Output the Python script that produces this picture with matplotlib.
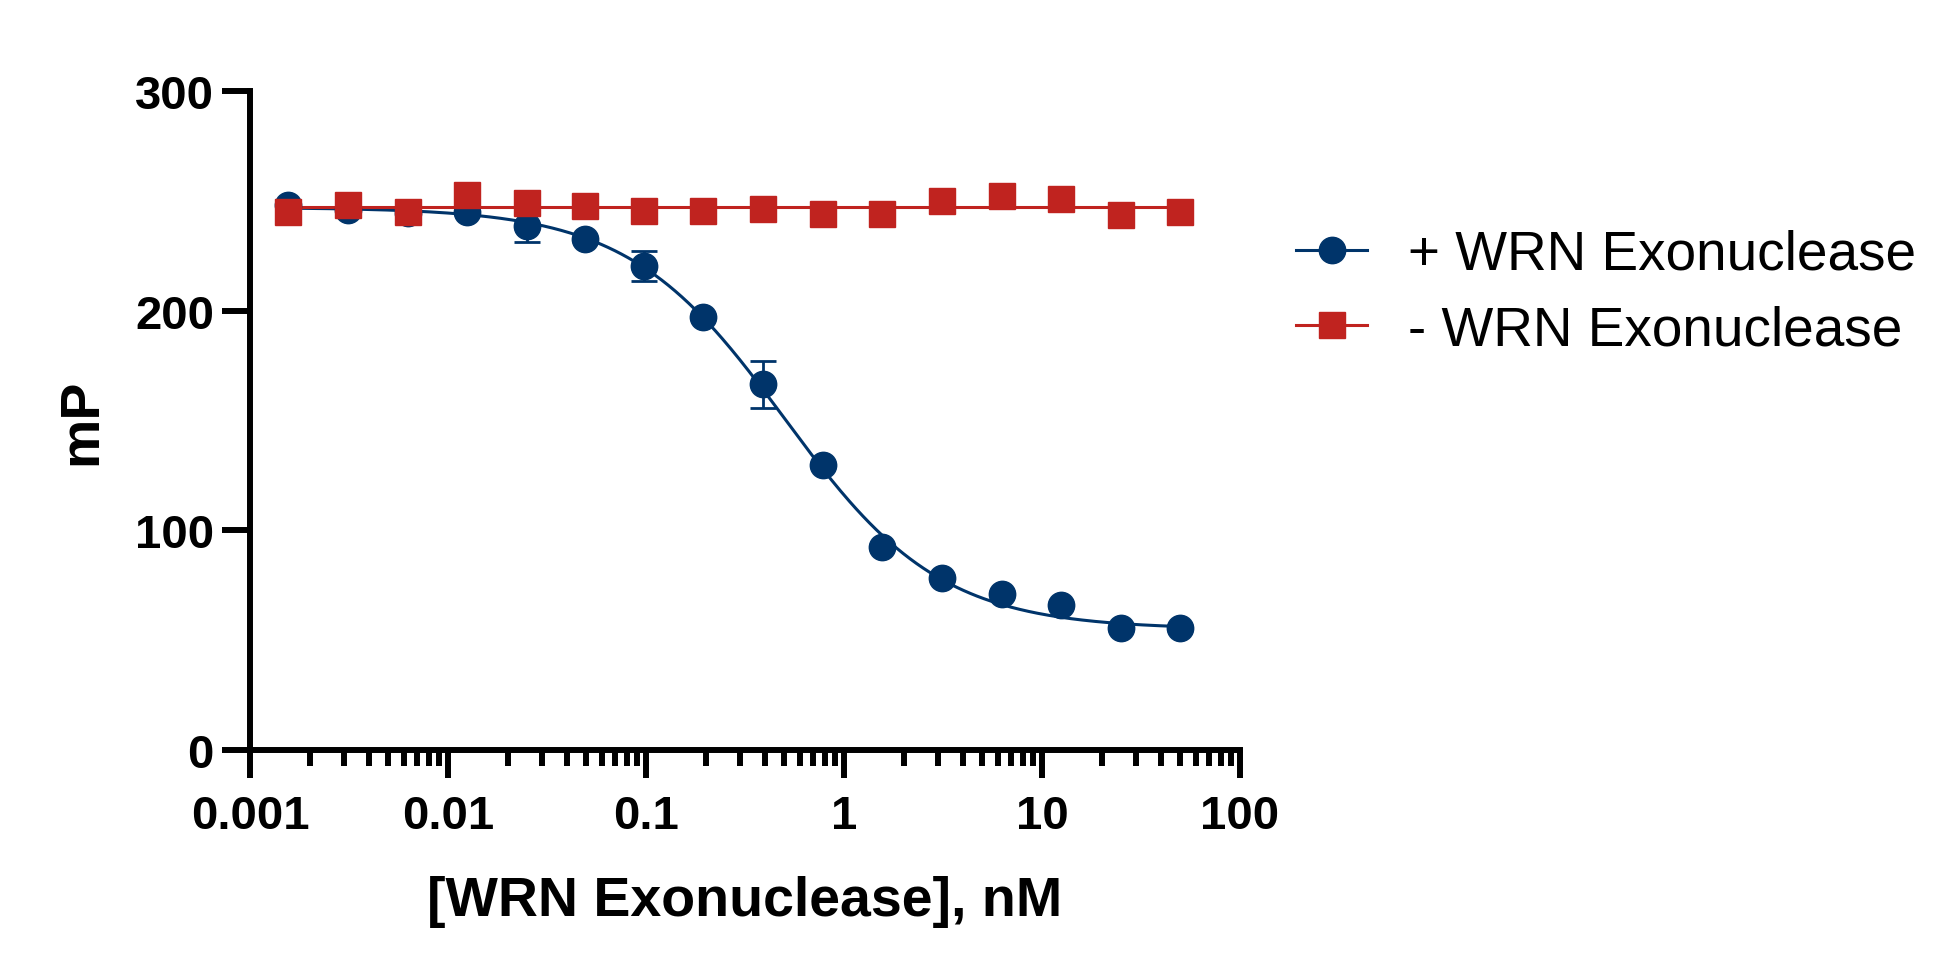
import numpy as np
import matplotlib
matplotlib.use("Agg")
import matplotlib.pyplot as plt
from matplotlib.lines import Line2D

plt.rcParams['font.family'] = ['Liberation Sans', 'DejaVu Sans']

# WRN concentration, nM (2-fold dilution series)
conc = [0.0015625, 0.003125, 0.00625, 0.0125, 0.025, 0.049, 0.098, 0.195,
        0.39, 0.78, 1.5625, 3.125, 6.25, 12.5, 25, 50]
# + WRN Exonuclease
plus_mp = [248, 246, 244.5, 245, 238.6, 232.6, 220.2, 197.3,
           166.6, 129.7, 92.6, 78.4, 71, 66, 55.6, 55.6]
plus_err = [0, 0, 0, 0, 7.5, 0, 6.8, 0, 10.7, 0, 0, 0, 0, 0, 0, 0]
# - WRN Exonuclease
minus_mp = [245, 248, 245, 252.5, 249, 247.5, 245.5, 245.2,
            246.5, 244, 244, 250, 252, 251, 243.5, 245]

# fit parameters (4PL for +WRN, flat line for -WRN)
fit_top = 247
fit_bottom = 55
fit_ic50 = 0.5
fit_hill = 1.1
flat_mp = 247

blue = '#00346a'
red = '#c0231f'

fig = plt.figure(figsize=(19.6, 9.79), dpi=100)
ax = fig.add_axes([250/1960, 1 - 751/979, 990/1960, 659/979])

xs = np.logspace(np.log10(conc[0]), np.log10(conc[-1]), 400)
ys = fit_bottom + (fit_top - fit_bottom) / (1 + (xs / fit_ic50) ** fit_hill)
ax.plot(xs, ys, color=blue, lw=2.2, zorder=2)
ax.plot([conc[0], conc[-1]], [flat_mp, flat_mp], color=red, lw=2.2, zorder=2)

# error bars only where SD was drawn
ex = [c for c, e in zip(conc, plus_err) if e > 0]
ey = [m for m, e in zip(plus_mp, plus_err) if e > 0]
ee = [e for e in plus_err if e > 0]
ax.errorbar(ex, ey, yerr=ee, fmt='none', ecolor=blue,
            elinewidth=2, capsize=9.7, capthick=2, zorder=3)
ax.plot(conc, plus_mp, 'o', color=blue, ms=19, ls='none', zorder=3)
ax.plot(conc, minus_mp, 's', color=red, ms=19, ls='none', zorder=4)

ax.set_xscale('log')
ax.set_xlim(0.001, 100)
ax.set_ylim(0, 300)
ax.set_yticks([0, 100, 200, 300])
ax.set_xticks([0.001, 0.01, 0.1, 1, 10, 100])
ax.set_xticklabels(['0.001', '0.01', '0.1', '1', '10', '100'])
ax.xaxis.set_minor_locator(matplotlib.ticker.LogLocator(base=10, subs=np.arange(2, 10), numticks=20))
ax.xaxis.set_minor_formatter(matplotlib.ticker.NullFormatter())

for s in ['top', 'right']:
    ax.spines[s].set_visible(False)
for s in ['left', 'bottom']:
    ax.spines[s].set_linewidth(4.3)
ax.tick_params(axis='both', which='major', length=20, width=4.3, labelsize=34)
ax.tick_params(axis='x', which='minor', length=11.5, width=4.3)
ax.tick_params(axis='x', which='major', pad=12)
ax.tick_params(axis='y', which='major', pad=6)
for lab in ax.get_xticklabels() + ax.get_yticklabels():
    lab.set_fontweight('bold')

ax.set_xlabel('[WRN Exonuclease], nM', fontsize=40, fontweight='bold', labelpad=26)
ax.set_ylabel('mP', fontsize=40, fontweight='bold', labelpad=19)

handles = [Line2D([], [], color=blue, marker='o', ms=19, lw=2.2),
           Line2D([], [], color=red, marker='s', ms=19, lw=2.2)]
fig.legend(handles, ['+ WRN Exonuclease', '- WRN Exonuclease'],
           loc='upper left', bbox_to_anchor=(1296/1960, 1 - 230/979),
           frameon=False, fontsize=39.5, handlelength=1.3, handletextpad=0.75,
           labelspacing=0.42, borderaxespad=0, borderpad=0)

fig.savefig('out.png', dpi=100)
